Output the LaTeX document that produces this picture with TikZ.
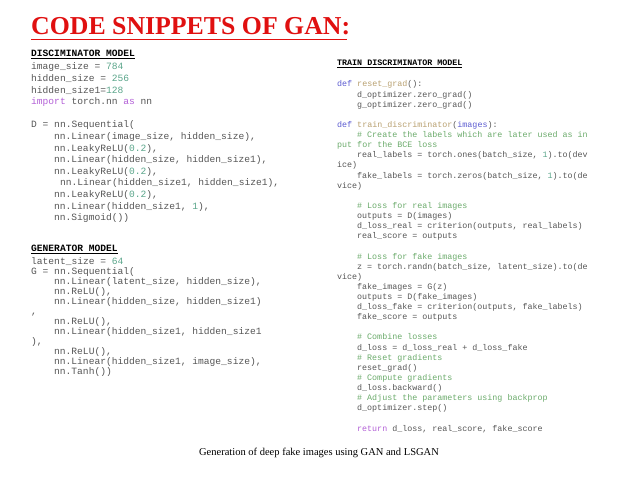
\documentclass[tikz,border=0pt]{standalone}
\usepackage{fontspec}
\setmainfont{Liberation Serif}
\setmonofont{Liberation Mono}
\definecolor{txt}{HTML}{555555}
\definecolor{num}{HTML}{5AA58A}
\definecolor{kw}{HTML}{B25FD6}
\definecolor{df}{HTML}{5A5AD0}
\definecolor{fn}{HTML}{B8A070}
\definecolor{cm}{HTML}{6AAA6A}
\definecolor{ttl}{HTML}{E01010}
\newcommand\N[1]{\textcolor{num}{#1}}
\newcommand\K[1]{\textcolor{kw}{#1}}
\newcommand\D[1]{\textcolor{df}{#1}}
\newcommand\F[1]{\textcolor{fn}{#1}}
\newcommand\C[1]{\textcolor{cm}{#1}}
\newcommand\ul[1]{\underline{#1}}
\tikzset{
 lcode/.style={anchor=base west,inner sep=0pt,font=\ttfamily\fontsize{9.6}{10}\selectfont,text=txt},
 rcode/.style={anchor=base west,inner sep=0pt,font=\ttfamily\fontsize{8.35}{9}\selectfont,text=txt},
}
\begin{document}
\begin{tikzpicture}[x=1pt,y=-1pt]
\useasboundingbox (0,0) rectangle (638,478);
\node[anchor=base west,inner sep=0pt,text=ttl,font=\bfseries\fontsize{25.8}{27}\selectfont] (title) at (31,35) {CODE SNIPPETS OF GAN:};
\draw[ttl,line width=1.8pt] (31,39.5) -- (347,39.5);
% left column
\def\a{31}
\node[lcode,font=\ttfamily\bfseries\fontsize{9.6}{10}\selectfont,text=black] (dtitle) at (\a,57) {\ul{DISCIMINATOR MODEL}};
\foreach \k/\s/\t in {
 0/0/{image\_size = \N{784}},
 1/0/{hidden\_size = \N{256}},
 2/0/{hidden\_size1=\N{128}},
 3/0/{\K{import} torch.nn \K{as} nn},
 5/0/{D = nn.Sequential(},
 6/23/{nn.Linear(image\_size, hidden\_size),},
 7/23/{nn.LeakyReLU(\N{0.2}),},
 8/23/{nn.Linear(hidden\_size, hidden\_size1),},
 9/23/{nn.LeakyReLU(\N{0.2}),},
 10/29/{nn.Linear(hidden\_size1, hidden\_size1),},
 11/23/{nn.LeakyReLU(\N{0.2}),},
 12/23/{nn.Linear(hidden\_size1, \N{1}),},
 13/23/{nn.Sigmoid())}}
 {\node[lcode] at (\a+\s,70+11.6*\k) {\t};}
\node[lcode,font=\ttfamily\bfseries\fontsize{9.6}{10}\selectfont,text=black] (gtitle) at (\a,252) {\ul{GENERATOR MODEL}};
\foreach \k/\s/\t in {
 0/0/{latent\_size = \N{64}},
 1/0/{G = nn.Sequential(},
 2/23/{nn.Linear(latent\_size, hidden\_size),},
 3/23/{nn.ReLU(),},
 4/23/{nn.Linear(hidden\_size, hidden\_size1)},
 5/0/{,},
 6/23/{nn.ReLU(),},
 7/23/{nn.Linear(hidden\_size1, hidden\_size1},
 8/0/{),},
 9/23/{nn.ReLU(),},
 10/23/{nn.Linear(hidden\_size1, image\_size),},
 11/23/{nn.Tanh())}}
 {\node[lcode] at (\a+\s,265+10*\k) {\t};}
% right column
\def\r{337}
\node[rcode,font=\ttfamily\bfseries\fontsize{8.35}{9}\selectfont,text=black] (rtitle) at (\r,66) {\ul{TRAIN DISCRIMINATOR MODEL}};
\foreach \k/\s/\t in {
 0/0/{\D{def} \F{reset\_grad}():},
 1/20/{d\_optimizer.zero\_grad()},
 2/20/{g\_optimizer.zero\_grad()},
 4/0/{\D{def} \F{train\_discriminator}(\D{images}):},
 5/20/{\C{\# Create the labels which are later used as in}},
 6/0/{\C{put for the BCE loss}},
 7/20/{real\_labels = torch.ones(batch\_size, \N{1}).to(dev},
 8/0/{ice)},
 9/20/{fake\_labels = torch.zeros(batch\_size, \N{1}).to(de},
 10/0/{vice)},
 12/20/{\C{\# Loss for real images}},
 13/20/{outputs = D(images)},
 14/20/{d\_loss\_real = criterion(outputs, real\_labels)},
 15/20/{real\_score = outputs},
 17/20/{\C{\# Loss for fake images}},
 18/20/{z = torch.randn(batch\_size, latent\_size).to(de},
 19/0/{vice)},
 20/20/{fake\_images = G(z)},
 21/20/{outputs = D(fake\_images)},
 22/20/{d\_loss\_fake = criterion(outputs, fake\_labels)},
 23/20/{fake\_score = outputs},
 25/20/{\C{\# Combine losses}},
 26/20/{d\_loss = d\_loss\_real + d\_loss\_fake},
 27/20/{\C{\# Reset gradients}},
 28/20/{reset\_grad()},
 29/20/{\C{\# Compute gradients}},
 30/20/{d\_loss.backward()},
 31/20/{\C{\# Adjust the parameters using backprop}},
 32/20/{d\_optimizer.step()},
 34/20/{\K{return} d\_loss, real\_score, fake\_score}}
 {\node[rcode] at (\r+\s,87+10.12*\k) {\t};}
\node[inner sep=0pt,font=\fontsize{10.5}{12}\selectfont] (cap) at (319,453) {Generation of deep fake images using GAN and LSGAN};
\end{tikzpicture}
\end{document}
